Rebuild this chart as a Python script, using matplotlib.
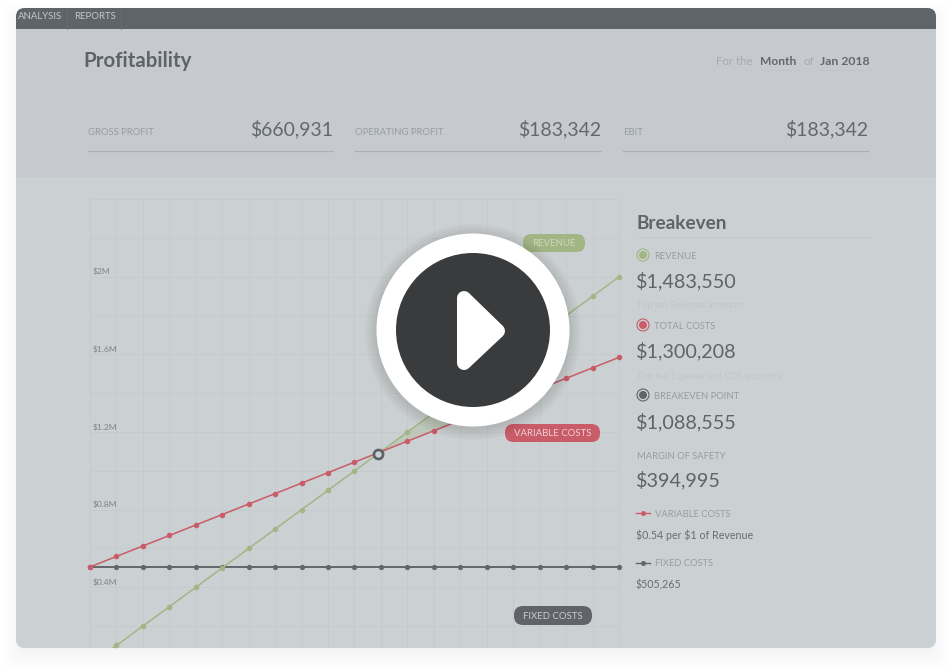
#!/usr/bin/env python3
"""Profitability dashboard with breakeven chart, dimmed behind a play button"""

import matplotlib
matplotlib.use("Agg")
import matplotlib.pyplot as plt
from matplotlib.patches import Circle, FancyBboxPatch, Polygon, Rectangle

plt.rcParams["font.family"] = ["Lato", "DejaVu Sans"]

# ── data ──────────────────────────────────────────────────────────
periods = list(range(21))
revenue = [0.0, 0.1, 0.2, 0.3, 0.4, 0.5, 0.6, 0.7, 0.8, 0.9, 1.0,
           1.1, 1.2, 1.3, 1.4, 1.5, 1.6, 1.7, 1.8, 1.9, 2.0]
total_costs = [0.505, 0.559, 0.613, 0.667, 0.721, 0.775, 0.829, 0.883, 0.937, 0.991, 1.045,
               1.099, 1.153, 1.207, 1.261, 1.315, 1.369, 1.423, 1.477, 1.531, 1.585]
fixed_costs = [0.505] * 21
breakeven_x = 10.886
breakeven_y = 1.0885
tick_vals = [2.0, 1.6, 1.2, 0.8, 0.4]
tick_labels = [r"\$2M", r"\$1.6M", r"\$1.2M", r"\$0.8M", r"\$0.4M"]
grid_vals = [0.2, 0.4, 0.6, 0.8, 1.0, 1.2, 1.4, 1.6, 1.8, 2.0, 2.2, 2.4]

nav_items = [("ANALYSIS", 18), ("REPORTS", 75)]
kpi_labels = ["GROSS PROFIT", "OPERATING PROFIT", "EBIT"]
kpi_values = [r"\$660,931", r"\$183,342", r"\$183,342"]

# ── colours ───────────────────────────────────────────────────────
GREEN = "#a2b685"
RED = "#c95c69"
DARK = "#5f6468"
LABEL = "#989da0"
FAINT = "#bfc4c7"
TOP_BG = "#c6cace"
LOW_BG = "#cbd0d2"
GRID = "#c4c9cb"


def px(size):
    # pixels to points at dpi 100
    return size * 0.72


fig = plt.figure(figsize=(9.52, 6.72), dpi=100, facecolor="white")

bg = fig.add_axes([0, 0, 1, 1], zorder=0)
bg.set_xlim(0, 952)
bg.set_ylim(672, 0)
bg.axis("off")

# ── card and shadow ───────────────────────────────────────────────
for grow in range(22, 0, -2):
    bg.add_patch(FancyBboxPatch((16 - grow + 8, 8 - grow + 16), 920 + 2 * grow - 16, 640 + 2 * grow - 16,
                                boxstyle="round,pad=0,rounding_size=12", fc="#000000", ec="none", alpha=0.005))

card = FancyBboxPatch((16, 8), 920, 640, boxstyle="round,pad=0,rounding_size=9", fc=LOW_BG, ec="none")
bg.add_patch(card)
for y0, h, col in [(8, 21, "#5f6468"), (29, 148, TOP_BG), (177, 471, LOW_BG)]:
    r = Rectangle((16, y0), 920, h, fc=col, ec="none")
    bg.add_patch(r)
    r.set_clip_path(card)

# ── chart ─────────────────────────────────────────────────────────
unit_w = 26.45
unit_h = 194.0
pad = 0.3
ax = fig.add_axes([(90 - pad * unit_w) / 952, (672 - 648) / 672,
                   (20 + 2 * pad) * unit_w / 952, (2.4 - 0.087) * unit_h / 672], zorder=1)
ax.set_xlim(-pad, 20 + pad)
ax.set_ylim(0.087, 2.4)
ax.axis("off")

ax.vlines(periods, 0.087, 2.4, color=GRID, lw=0.6, zorder=1)
ax.hlines(grid_vals, 0, 20, color=GRID, lw=0.6, zorder=1)

wedge_x = [breakeven_x] + periods[11:16]
wedge_top = [breakeven_y] + revenue[11:16]
wedge_low = [breakeven_y] + total_costs[11:16]
ax.fill_between(wedge_x, wedge_low, wedge_top, color=GREEN, alpha=0.3, lw=0, zorder=2)

ax.plot(periods, fixed_costs, color="#63676b", lw=1.4, marker="o", ms=3.8, mew=0, zorder=3)
ax.plot(periods, revenue, color=GREEN, lw=1.1, marker="o", ms=4, mew=0, zorder=4)
ax.plot(periods, total_costs, color=RED, lw=1.1, marker="o", ms=4, mew=0, zorder=5)
ax.plot([breakeven_x], [breakeven_y], marker="o", ms=6.5, mfc=LOW_BG, mec="#5c6165", mew=1.9, zorder=6)

for val, lab in zip(tick_vals, tick_labels):
    ax.annotate(lab, (0, val), xytext=(px(3), px(5.2)), textcoords="offset points",
                fontsize=px(8.5), color="#7f8487", va="center", ha="left")

# ── overlay in pixel coordinates ──────────────────────────────────
ui = fig.add_axes([0, 0, 1, 1], zorder=2)
ui.set_xlim(0, 952)
ui.set_ylim(672, 0)
ui.axis("off")
ui.patch.set_alpha(0)


def label(x, y, s, size, color, ha="left", weight="normal"):
    # va center sits a little high for this font
    ui.text(x, y + 1.3, s, fontsize=px(size), color=color, ha=ha, va="center", fontweight=weight)


# header
for s, x in nav_items:
    label(x - 0.5, 15.5, s, 9.6, "#c3c7ca")
for x in [67, 121]:
    ui.plot([x, x], [8, 29], color="#696e72", lw=0.6)

label(83.5, 60, "Profitability", 20.5, DARK, weight="bold")
label(716, 60, "For the", 11.5, "#a6abae")
label(760, 60, "Month", 12, "#63686c", weight="bold")
label(803, 60, "of", 11.5, "#a6abae")
label(820, 60, "Jan 2018", 12.2, "#63686c", weight="bold")
ui.plot([760, 798], [69.5, 69.5], color=FAINT, lw=0.7)
ui.plot([820, 871], [69.5, 69.5], color=FAINT, lw=0.7)

# kpi row
for name, val, (x0, x1) in zip(kpi_labels, kpi_values, [(88, 333), (355, 601), (623, 868)]):
    label(x0, 131, name, 9.5, LABEL)
    label(x1, 128, val, 19.4, "#63686c", ha="right")
    ui.plot([x0, x1], [150.5, 150.5], color="#acb1b4", lw=0.9)

# breakeven side panel
label(637, 222.5, "Breakeven", 19, DARK, weight="bold")
ui.plot([637, 871], [237, 237], color=GRID, lw=0.8)

for yc, col, s in [(255, GREEN, "REVENUE"), (325, RED, "TOTAL COSTS"), (395, DARK, "BREAKEVEN POINT")]:
    ui.add_patch(Circle((643, yc), 6, fc="none", ec=col, lw=0.8))
    ui.add_patch(Circle((643, yc), 4, fc=col, ec="none"))
    label(654.5, yc, s, 9.4, LABEL)

label(636, 280, r"\$1,483,550", 19.8, DARK)
label(637, 304.5, "Top ten Revenue accounts", 9.2, "#c1c6c8")
label(636, 350, r"\$1,300,208", 19.8, DARK)
label(637, 375, "Top ten Expense and COS accounts", 9.3, "#c1c6c8")
label(636, 420.5, r"\$1,088,555", 19.8, DARK)
label(637, 455.5, "MARGIN OF SAFETY", 9.4, LABEL)
label(636, 478.5, r"\$394,995", 19.8, DARK)

for yc, col, s in [(513, RED, "VARIABLE COSTS"), (562.5, "#63676b", "FIXED COSTS")]:
    ui.plot([636, 650], [yc, yc], color=col, lw=1.0, zorder=3)
    ui.plot([643], [yc], color=col, marker="o", ms=3.6, mew=0, zorder=3)
    label(655, yc, s, 9.4, LABEL)
label(636, 534, r"\$0.54 per \$1 of Revenue", 10.6, "#686d70")
label(636, 584, r"\$505,265", 10.6, "#686d70")

# pills on the chart
for x0, y0, w, h, col, s, tc in [(523, 234, 62, 18, GREEN, "REVENUE", "#ccd6bb"),
                                 (505, 424, 95, 18, RED, "VARIABLE COSTS", "#efd0d3"),
                                 (514, 606, 78, 19, "#606468", "FIXED COSTS", "#c9cccf")]:
    ui.add_patch(FancyBboxPatch((x0, y0), w, h, boxstyle=f"round,pad=0,rounding_size={h / 2 - 0.5}",
                                fc=col, ec="none", zorder=4))
    ui.text(x0 + w / 2, y0 + h / 2 + 0.8, s, fontsize=px(9.6), color=tc, ha="center", va="center", zorder=5)

# ── play button ───────────────────────────────────────────────────
for r in range(108, 96, -2):
    ui.add_patch(Circle((473, 332), r, fc="#000000", ec="none", alpha=0.018, zorder=6))
ui.add_patch(Circle((473, 330), 96.5, fc="white", ec="none", zorder=7))
ui.add_patch(Circle((473, 330), 77, fc="#3a3b3d", ec="none", zorder=8))
ui.add_patch(Polygon([(464, 298), (498, 331), (464, 363)], closed=True, fc="white", ec="white",
                     lw=px(14), joinstyle="round", zorder=9))

fig.savefig("out.png", dpi=100, facecolor="white")
